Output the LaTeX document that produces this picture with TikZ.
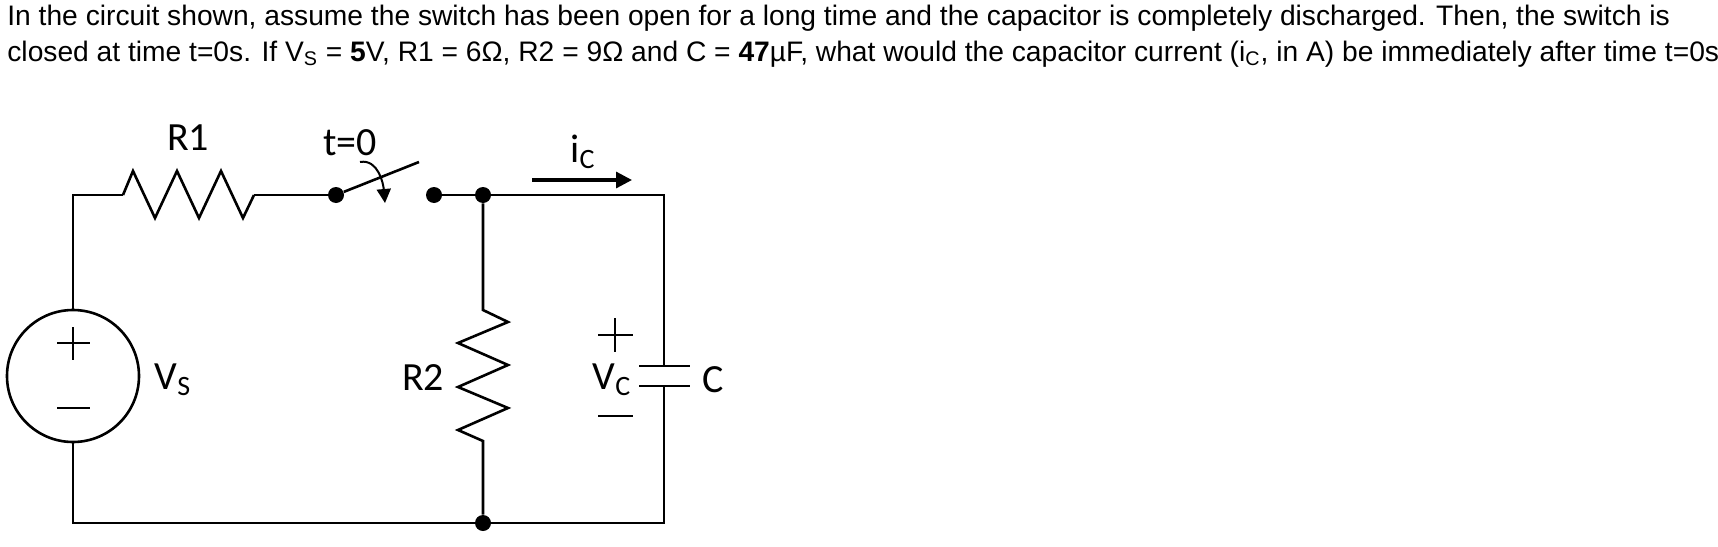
\documentclass[tikz,border=0pt]{standalone}
\usepackage{fontspec}
\setmainfont{Liberation Sans}
\newfontfamily\carlitofont{Carlito}
\usetikzlibrary{arrows.meta}
\begin{document}
\begin{tikzpicture}[x=0.5pt,y=-0.5pt,
  wire/.style={line width=1.3pt},
  dotn/.style={circle,fill,inner sep=0pt,minimum size=8pt},
  lab/.style={font=\carlitofont\fontsize{20}{22}\selectfont,inner sep=0pt},
  txt/.style={anchor=west,inner sep=0pt,font=\fontsize{14.1}{16}\selectfont}]
\useasboundingbox (0,0) rectangle (1718,546);
\node[txt] (l1) at (7,18) {In the circuit shown, assume the switch has been open for a long time and the capacitor is completely discharged. Then, the switch is};
\node[txt] (l2) at (7,54) {closed at time t=0s. If V\textsubscript{S} = \textbf{5}V, R1 = 6Ω, R2 = 9Ω and C = \textbf{47}µF, what would the capacitor current (i\textsubscript{C}, in A) be immediately after time t=0s?};
\coordinate (tl) at (73,195);
\coordinate (r1a) at (123,195);
\coordinate (r1b) at (254,195);
\node[dotn] (s1) at (336,195) {};
\node[dotn] (s2) at (434,195) {};
\node[dotn] (j1) at (483,195) {};
\coordinate (tr) at (664,195);
\node[dotn] (j2) at (483,523) {};
\coordinate (bl) at (73,523);
\coordinate (br) at (664,523);
\node[circle,draw,line width=1.3pt,minimum size=66pt,inner sep=0pt] (src) at (73,376) {};
\coordinate (r2a) at (483,310);
\coordinate (r2b) at (483,441);
\coordinate (ct) at (664,366);
\coordinate (cb) at (664,386);
\draw[wire] (src.north) -- (tl) -- (r1a);
\draw[wire] (r1a) -- (133,171) -- (155,218) -- (177,171) -- (199,218) -- (221,171) -- (243,218) -- (r1b);
\draw[wire] (r1b) -- (s1);
\draw[wire] (s1) -- (419,162);
\draw[wire] (s2) -- (j1) -- (tr) -- (ct);
\draw[wire] (639,366) -- (690,366);
\draw[wire] (639,386) -- (690,386);
\draw[wire] (cb) -- (br) -- (j2) -- (bl) -- (src.south);
\draw[wire] (j1) -- (r2a) -- (508,322) -- (458,343) -- (508,365) -- (458,387) -- (508,408) -- (458,430) -- (r2b) -- (j2);
\draw[line width=1pt,-{Triangle[length=7pt,width=7pt]}] (360,162) to[out=10,in=95] (385,203);
\draw[line width=1.6pt,-{Triangle[length=8pt,width=8pt]}] (532,180) -- (632,180);
\draw[line width=1.1pt] (57,343) -- (90,343) (73,327) -- (73,360) (57,408) -- (90,408);
\draw[line width=1.1pt] (598,335) -- (633,335) (615,318) -- (615,352) (598,416) -- (633,416);
\node[lab] (tR1) at (188,138) {R1};
\node[lab] (tt) at (350,143) {t=0};
\node[lab] (tic) at (583,152) {i\textsubscript{C}};
\node[lab] (tvs) at (173,380) {V\textsubscript{S}};
\node[lab] (tr2) at (423,378) {R2};
\node[lab] (tvc) at (612,380) {V\textsubscript{C}};
\node[lab] (tc) at (713,380) {C};
\end{tikzpicture}
\end{document}
